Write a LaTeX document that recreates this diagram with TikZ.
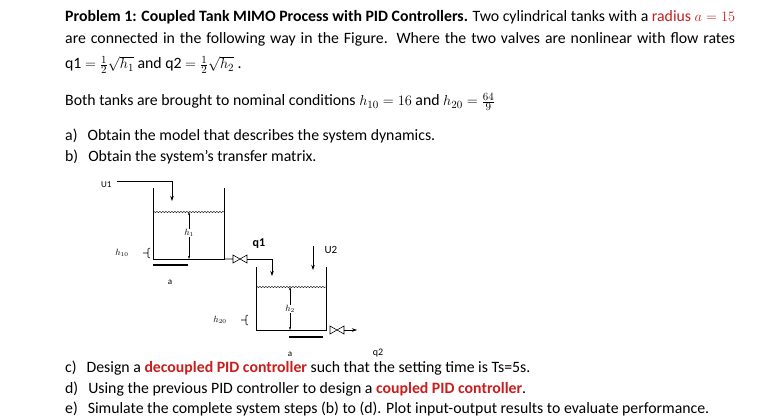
\documentclass[tikz,border=0pt]{standalone}
\usepackage{fontspec}
\setmainfont{Carlito}
\usetikzlibrary{decorations.pathmorphing,arrows.meta}
\definecolor{myred}{RGB}{200,30,30}
\begin{document}
\begin{tikzpicture}[x=1pt,y=-1pt,
  txt/.style={anchor=west,inner sep=0pt,font=\fontsize{15.8}{19}\selectfont},
  lab/.style={inner sep=0pt,font=\fontsize{9}{11}\selectfont},
  wall/.style={line width=0.9pt},
  arr/.style={line width=0.7pt,-{Stealth[length=5pt,width=3.5pt]}},
  wave/.style={decorate,decoration={snake,amplitude=0.6pt,segment length=3pt},line width=0.4pt},
  valve/.style={line width=0.6pt}]
\useasboundingbox (0,0) rectangle (782,419);
\node[txt] (l1) at (65,17) {\makebox[670pt][s]{\textbf{Problem 1: Coupled Tank MIMO Process with PID Controllers.} Two cylindrical tanks with a \textcolor{myred}{radius $a=15$}}};
\node[txt] (l2) at (65,39) {\makebox[670pt][s]{are connected in the following way in the Figure. Where the two valves are nonlinear with flow rates}};
\node[txt] (l3) at (65,65) {q1 $=\frac{1}{2}\sqrt{h_1}$ and q2 $=\frac{1}{2}\sqrt{h_2}$ .};
\node[txt] (l4) at (65,102) {Both tanks are brought to nominal conditions $h_{10}=16$ and $h_{20}=\frac{64}{9}$};
\node[txt] (la) at (65,136) {a)\hspace{10pt}Obtain the model that describes the system dynamics.};
\node[txt] (lb) at (65,157) {b)\hspace{10pt}Obtain the system’s transfer matrix.};
\node[txt] (lc) at (65,368) {c)\hspace{10pt}Design a \textcolor{myred}{\textbf{decoupled PID controller}} such that the setting time is Ts=5s.};
\node[txt] (ld) at (65,389) {d)\hspace{10pt}Using the previous PID controller to design a \textcolor{myred}{\textbf{coupled PID controller}}.};
\node[txt] (le) at (65,409) {e)\hspace{10pt}Simulate the complete system steps (b) to (d). Plot input-output results to evaluate performance.};
% tank 1
\draw[wall] (153,188) -- (153,259) -- (224,259) -- (224,188);
\draw[wave] (153,212) -- (224,212);
\draw[line width=1.4pt] (153,265) -- (188,265);
\node[lab] (a1) at (170,282) {a};
\draw[{Stealth[length=3pt,width=2pt]}-{Stealth[length=3pt,width=2pt]},line width=0.4pt] (189,212) -- (189,259);
\node[lab,fill=white] (h1) at (189,233) {$h_1$};
\node[lab] (h10) at (122,253) {$h_{10}$};
\draw[line width=0.6pt] (143,253) -- (148,253) (150,248) -- (148,249) -- (148,257) -- (150,258);
\node[lab,anchor=west] (u1) at (101,185) {U1};
\coordinate (u1s) at (117,181);
\coordinate (u1c) at (172,181);
\coordinate (u1e) at (172,201);
\draw[arr] (u1s) -- (u1c) -- (u1e);
% pipe and valve 1
\draw[valve] (224,259) -- (233,259) (233,255) -- (247,263) -- (247,255) -- (233,263) -- cycle;
\coordinate (p1c) at (272,259);
\coordinate (p1e) at (272,276);
\draw[arr] (247,259) -- (p1c) -- (p1e);
\node[lab,font=\fontsize{12}{14}\selectfont\bfseries] (q1) at (259,244) {q1};
\coordinate (u2s) at (313,246);
\coordinate (u2e) at (313,270);
\draw[arr] (u2s) -- (u2e);
\node[lab,font=\fontsize{11}{13}\selectfont] (u2) at (331,250) {U2};
% tank 2
\draw[wall] (256,267) -- (256,330) -- (326,330) -- (326,267);
\draw[wave] (256,287) -- (326,287);
\draw[line width=1.4pt] (289,337) -- (323,337);
\node[lab] (a2) at (290,354) {a};
\draw[{Stealth[length=3pt,width=2pt]}-{Stealth[length=3pt,width=2pt]},line width=0.4pt] (290,287) -- (290,330);
\node[lab,fill=white] (h2) at (290,309) {$h_2$};
\node[lab] (h20) at (220,320) {$h_{20}$};
\draw[line width=0.6pt] (241,320) -- (246,320) (248,315) -- (246,316) -- (246,324) -- (248,325);
\draw[valve] (330,326) -- (344,334) -- (344,326) -- (330,334) -- cycle;
\coordinate (q2e) at (357,330);
\draw[arr,line width=0.5pt] (344,330) -- (q2e);
\node[lab,font=\fontsize{10}{12}\selectfont] (q2) at (378,353) {q2};
\end{tikzpicture}
\end{document}
